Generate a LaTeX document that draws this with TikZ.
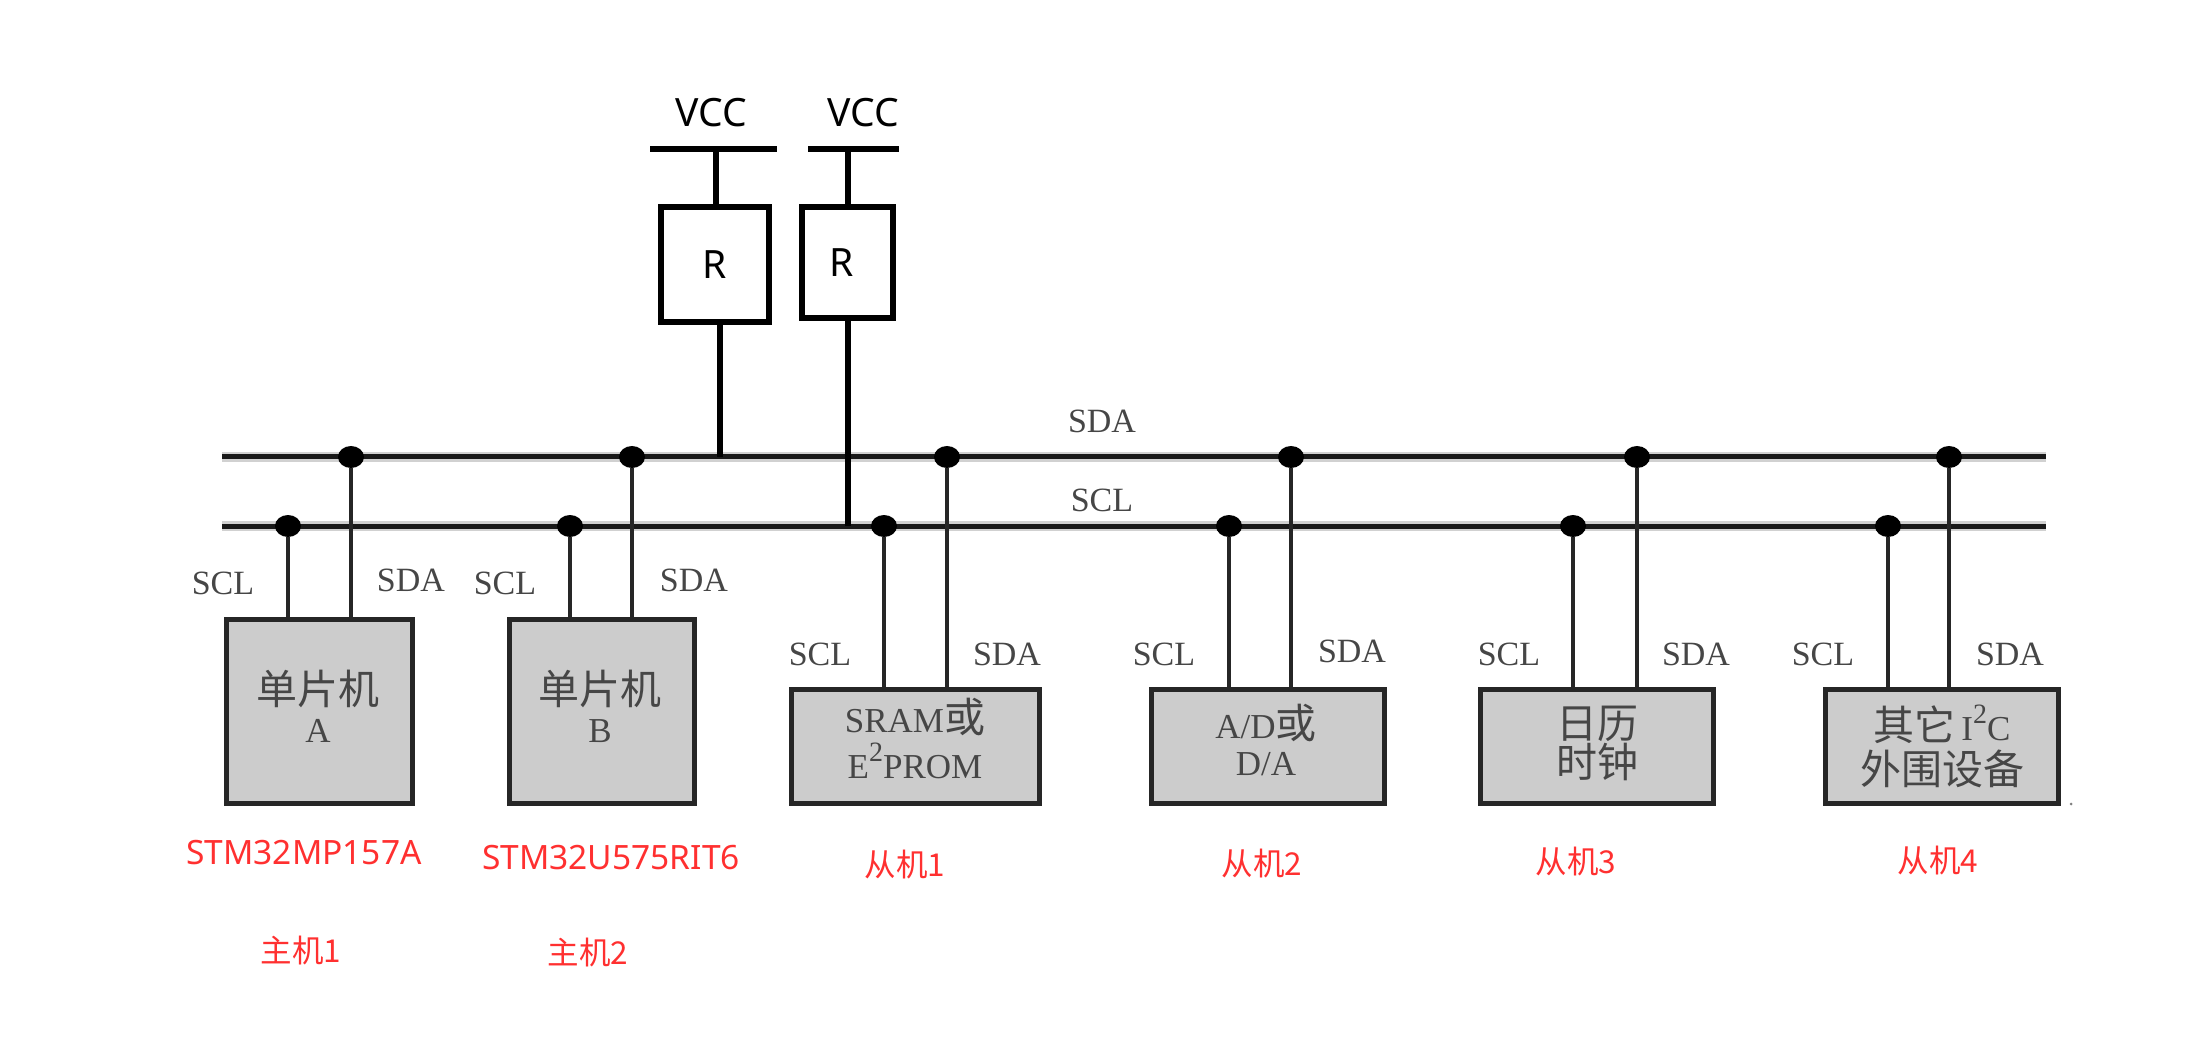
\documentclass[tikz,border=0pt]{standalone}
\usepackage{fontspec}
\usepackage{xcolor}
\setmainfont{Liberation Serif}
\newfontfamily\cjk{Noto Sans CJK SC}
\newfontfamily\labelfont{Noto Sans}
\usetikzlibrary{positioning, shapes.geometric}
\definecolor{printRed}{RGB}{255, 48, 48}
\definecolor{printGray}{RGB}{70, 70, 70}
\definecolor{boxGray}{RGB}{204, 204, 204}
\newcommand{\cn}[1]{{\cjk\fontsize{41}{41}\selectfont #1}}
\newcommand{\suptwo}{\raisebox{0.48em}{\fontsize{28}{28}\selectfont 2}}
\tikzset{
    bus/.style={line width=5, black!90, preaction={draw, line width=10, black!18}},
    wire/.style={line width=4, black!85},
    power/.style={line width=6.5, black},
    dot/.style={ellipse, fill=black, inner sep=0, minimum width=26, minimum height=22},
    res/.style={draw=black, line width=6.5, fill=white, inner sep=0, font=\labelfont\fontsize{39}{39}\selectfont},
    device/.style={draw=black!85, line width=5.5, fill=boxGray, inner sep=0},
    boxtext/.style={inner sep=0, align=center, text=printGray, font=\fontsize{35}{44}\selectfont},
    pin/.style={inner sep=0, text=printGray, font=\fontsize{34}{34}\selectfont},
    vcc/.style={inner sep=0, font=\labelfont\fontsize{39}{39}\selectfont},
    note/.style={inner sep=0, text=printRed, font=\labelfont\fontsize{33.5}{34}\selectfont},
    cnnote/.style={inner sep=0, text=printRed, font=\cjk\fontsize{31.5}{32}\selectfont}
}
\begin{document}
\begin{tikzpicture}[x=1pt, y=-1pt]
    \useasboundingbox (0,0) rectangle (2188,1056);

    % bus
    \coordinate (sdaL) at (222,457);
    \coordinate (sdaR) at (2046,457);
    \coordinate (sclL) at (222,526);
    \coordinate (sclR) at (2046,526);
    \draw[bus] (sdaL) -- (sdaR);
    \draw[bus] (sclL) -- (sclR);
    \node[pin] (sdaName) at (1102,421) {SDA};
    \node[pin] (sclName) at (1102,500) {SCL};

    % pull-up
    \coordinate (barAL) at (650,149);
    \coordinate (barAR) at (777,149);
    \coordinate (barBL) at (808,149);
    \coordinate (barBR) at (899,149);
    \coordinate (vccA) at (716,149);
    \coordinate (vccB) at (848,149);
    \coordinate (tapA) at (720,457);
    \coordinate (tapB) at (848,526);
    \node[vcc] (vccTextA) at (711,113) {VCC};
    \node[vcc] (vccTextB) at (863,113) {VCC};
    \node[res, minimum width=108, minimum height=115] (resA) at (715,264.5) {R};
    \node[res, minimum width=91, minimum height=111] (resB) at (847.5,262.5) {R\rule{11pt}{0pt}};
    \draw[power] (barAL) -- (barAR);
    \draw[power] (barBL) -- (barBR);
    \draw[power] (vccA) -- (vccA |- resA.north);
    \draw[power] (vccB) -- (vccB |- resB.north);
    \draw[power] (tapA |- resA.south) -- (tapA);
    \draw[power] (tapB |- resB.south) -- (tapB);

    % master and slave boxes
    \node[device, minimum width=186, minimum height=184] (boxA) at (319.5,711.5) {};
    \node[device, minimum width=185, minimum height=184] (boxB) at (602,711.5) {};
    \node[device, minimum width=248, minimum height=114] (boxC) at (915.5,746.5) {};
    \node[device, minimum width=233, minimum height=114] (boxD) at (1268,746.5) {};
    \node[device, minimum width=233, minimum height=114] (boxE) at (1597,746.5) {};
    \node[device, minimum width=233, minimum height=114] (boxF) at (1942,746.5) {};
    \node[boxtext] (textA) at (318,706.5) {\cn{单片机}\\[-6pt]A};
    \node[boxtext] (textB) at (600,706.5) {\cn{单片机}\\[-6pt]B};
    \node[boxtext] (textC) at (915,738) {SRAM\cn{或}\\[2pt]E\suptwo PROM};
    \node[boxtext] (textD) at (1266,740) {A/D\cn{或}\\[-7pt]D/A};
    \node[boxtext] (textE) at (1597,743) {\cn{日历}\\[-5pt]\cn{时钟}};
    \node[boxtext] (textF) at (1942,746.5) {\cn{其它}\,I\suptwo C\\\cn{外围设备}};

    % taps on SCL
    \node[dot] (sclA) at (288,526) {};
    \node[dot] (sclB) at (570,526) {};
    \node[dot] (sclC) at (884,526) {};
    \node[dot] (sclD) at (1229,526) {};
    \node[dot] (sclE) at (1573,526) {};
    \node[dot] (sclF) at (1888,526) {};
    % taps on SDA
    \node[dot] (sdaA) at (351,457) {};
    \node[dot] (sdaB) at (632,457) {};
    \node[dot] (sdaC) at (947,457) {};
    \node[dot] (sdaD) at (1291,457) {};
    \node[dot] (sdaE) at (1637,457) {};
    \node[dot] (sdaF) at (1949,457) {};

    % wires
    \draw[wire] (sclA) -- (sclA |- boxA.north);
    \draw[wire] (sdaA) -- (sdaA |- boxA.north);
    \draw[wire] (sclB) -- (sclB |- boxB.north);
    \draw[wire] (sdaB) -- (sdaB |- boxB.north);
    \draw[wire] (sclC) -- (sclC |- boxC.north);
    \draw[wire] (sdaC) -- (sdaC |- boxC.north);
    \draw[wire] (sclD) -- (sclD |- boxD.north);
    \draw[wire] (sdaD) -- (sdaD |- boxD.north);
    \draw[wire] (sclE) -- (sclE |- boxE.north);
    \draw[wire] (sdaE) -- (sdaE |- boxE.north);
    \draw[wire] (sclF) -- (sclF |- boxF.north);
    \draw[wire] (sdaF) -- (sdaF |- boxF.north);

    % pin names
    \node[pin] (pinSclA) at (223,583) {SCL};
    \node[pin] (pinSdaA) at (411,580) {SDA};
    \node[pin] (pinSclB) at (505,583) {SCL};
    \node[pin] (pinSdaB) at (694,580) {SDA};
    \node[pin] (pinSclC) at (820,654) {SCL};
    \node[pin] (pinSdaC) at (1007,654) {SDA};
    \node[pin] (pinSclD) at (1164,654) {SCL};
    \node[pin] (pinSdaD) at (1352,651) {SDA};
    \node[pin] (pinSclE) at (1509,654) {SCL};
    \node[pin] (pinSdaE) at (1696,654) {SDA};
    \node[pin] (pinSclF) at (1823,654) {SCL};
    \node[pin] (pinSdaF) at (2010,654) {SDA};

    % red notes
    \node[note] (chipA) at (304,853) {STM32MP157A};
    \node[note] (chipB) at (611,858) {STM32U575RIT6};
    \node[cnnote] (hostA) at (301,951) {主机1};
    \node[cnnote] (hostB) at (588,953) {主机2};
    \node[cnnote] (slaveA) at (905,865) {从机1};
    \node[cnnote] (slaveB) at (1262,864) {从机2};
    \node[cnnote] (slaveC) at (1576,862) {从机3};
    \node[cnnote] (slaveD) at (1938,861) {从机4};

    \fill[black!50] (2071,804) circle (1.5);
\end{tikzpicture}
\end{document}
